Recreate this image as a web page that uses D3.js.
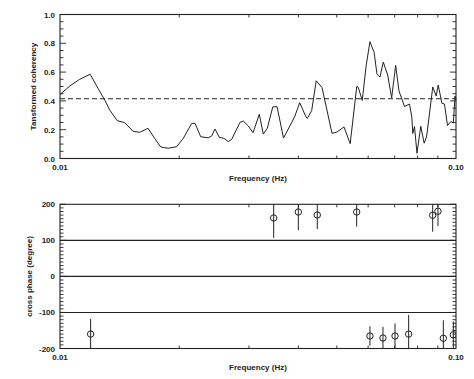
<!DOCTYPE html>
<html><head><meta charset="utf-8">
<script src="https://cdn.jsdelivr.net/npm/d3@7"></script>
<style>
html,body{margin:0;padding:0;background:#fff;}
svg{display:block;}
text{font-family:"Liberation Sans",Arial,sans-serif;font-weight:bold;font-size:8px;fill:#222;}
</style></head>
<body>
<script>
// ---- data ----
const cohFreq = [0.0100,0.01058,0.01121,0.01192,0.01247,0.01297,0.01335,0.01395,0.01457,0.01529,0.0159,0.01668,0.01734,0.01796,0.01874,0.01971,0.02048,0.02151,0.02193,0.02266,0.02369,0.02416,0.02463,0.02525,0.02595,0.02661,0.02714,0.02848,0.02904,0.02989,0.03072,0.03186,0.03261,0.03338,0.03446,0.03532,0.03668,0.03911,0.04031,0.04169,0.04212,0.04321,0.04436,0.04588,0.04863,0.05006,0.05214,0.05405,0.05616,0.05665,0.05798,0.0593,0.06063,0.06213,0.06316,0.06427,0.06551,0.06721,0.06879,0.07041,0.07178,0.07413,0.07631,0.07734,0.07778,0.07856,0.0797,0.08148,0.08311,0.08433,0.08737,0.08913,0.09016,0.09218,0.09354,0.09517,0.09714,0.09845,0.09943,0.1000];
const cohValue = [0.444,0.503,0.55,0.585,0.4875,0.406,0.337,0.2625,0.249,0.189,0.182,0.21,0.14,0.08,0.071,0.082,0.14,0.244,0.244,0.151,0.144,0.156,0.205,0.147,0.14,0.117,0.133,0.251,0.26,0.226,0.179,0.307,0.17,0.21,0.358,0.36,0.142,0.288,0.3875,0.295,0.278,0.333,0.54,0.493,0.175,0.184,0.219,0.103,0.501,0.494,0.403,0.644,0.811,0.736,0.585,0.566,0.67,0.58,0.4215,0.647,0.469,0.361,0.378,0.288,0.174,0.222,0.036,0.224,0.106,0.156,0.497,0.434,0.51,0.383,0.378,0.229,0.257,0.2465,0.434,0.406];
const cohThreshold = 0.415;

const phaseFreq  = [0.01195,0.03464,0.03998,0.04464,0.05613,0.06063,0.0654,0.07015,0.07594,0.08731,0.09005,0.0929,0.09845];
const phaseValue = [-160,162,178.6,170.3,178.6,-165.3,-170.9,-165.3,-160,169.5,180.6,-171.7,-162];
const phaseErr   = [42,55,50,39,40.6,27,31,35,53,45.5,41,50,37];

const cohTicks = [0,0.2,0.4,0.6,0.8,1.0];
const cohTickLabels = ["0.0","0.2","0.4","0.6","0.8","1.0"];
const phaseTicks = [-200,-100,0,100,200];
const phaseTickLabels = ["-200","-100","0","100","200"];
const freqTicks = [0.01,0.1];
const freqTickLabels = ["0.01","0.10"];
const freqMinor = [0.02,0.03,0.04,0.05,0.06,0.07,0.08,0.09];
const phaseRefLines = [100,0,-100];

// ---- drawing ----
const W = 474, H = 379;
const svg = d3.select("body").append("svg").attr("width", W).attr("height", H);
const ink = "#222";

const x = d3.scaleLog().domain([0.01, 0.1]).range([60, 456]);
const yTop = d3.scaleLinear().domain([0, 1]).range([158.5, 14.5]);
const yBot = d3.scaleLinear().domain([-200, 200]).range([348.5, 204.3]);

function frame(y, majors, labels, minorStep, majLen, minLen, xLabelY, xTitleY, yTitle, yTitleX) {
  const [y0, y1] = y.range();
  const g = svg.append("g");
  g.append("rect").attr("x", x.range()[0]).attr("y", y1)
    .attr("width", x.range()[1] - x.range()[0]).attr("height", y0 - y1)
    .attr("fill", "none").attr("stroke", ink).attr("stroke-width", 1.1);
  // y minor ticks
  const [d0, d1] = y.domain();
  const minors = d3.range(d0, d1 + minorStep / 2, minorStep);
  minors.forEach(v => {
    const isMajor = majors.some(m => Math.abs(m - v) < 1e-9);
    const len = isMajor ? majLen : minLen;
    g.append("line").attr("x1", x.range()[0]).attr("x2", x.range()[0] + len)
      .attr("y1", y(v)).attr("y2", y(v)).attr("stroke", ink).attr("stroke-width", 0.9);
    g.append("line").attr("x1", x.range()[1]).attr("x2", x.range()[1] - len)
      .attr("y1", y(v)).attr("y2", y(v)).attr("stroke", ink).attr("stroke-width", 0.9);
  });
  // x minor ticks
  freqMinor.forEach(f => {
    g.append("line").attr("x1", x(f)).attr("x2", x(f)).attr("y1", y0).attr("y2", y0 - 3)
      .attr("stroke", ink).attr("stroke-width", 0.9);
    g.append("line").attr("x1", x(f)).attr("x2", x(f)).attr("y1", y1).attr("y2", y1 + 3)
      .attr("stroke", ink).attr("stroke-width", 0.9);
  });
  // y labels
  majors.forEach((v, i) => {
    g.append("text").attr("x", 55).attr("y", y(v) + 3).attr("text-anchor", "end").text(labels[i]);
  });
  // x labels
  freqTicks.forEach((f, i) => {
    g.append("text").attr("x", x(f)).attr("y", xLabelY).attr("text-anchor", "middle").text(freqTickLabels[i]);
  });
  g.append("text").attr("x", 258).attr("y", xTitleY).attr("text-anchor", "middle").text("Frequency (Hz)");
  const cy = (y0 + y1) / 2;
  g.append("text").attr("transform", `translate(${yTitleX},${cy}) rotate(-90)`)
    .attr("text-anchor", "middle").text(yTitle);
  return g;
}

frame(yTop, cohTicks, cohTickLabels, 0.05, 6, 3.5, 170, 181, "Tansformed coherency", 36);
frame(yBot, phaseTicks, phaseTickLabels, 10, 6, 3.5, 360, 370, "cross phase (degree)", 32);

// top: threshold and curve
svg.append("line").attr("x1", x(0.01)).attr("x2", x(0.1))
  .attr("y1", yTop(cohThreshold)).attr("y2", yTop(cohThreshold))
  .attr("stroke", ink).attr("stroke-width", 1).attr("stroke-dasharray", "5,3");
const cohData = cohFreq.map((f, i) => [f, cohValue[i]]);
svg.append("path").datum(cohData)
  .attr("d", d3.line().x(d => x(d[0])).y(d => yTop(d[1])))
  .attr("fill", "none").attr("stroke", ink).attr("stroke-width", 1);

// bottom: reference lines
phaseRefLines.forEach(v => {
  svg.append("line").attr("x1", x(0.01)).attr("x2", x(0.1))
    .attr("y1", yBot(v)).attr("y2", yBot(v)).attr("stroke", ink).attr("stroke-width", 1.1);
});
// clip for error bars
svg.append("clipPath").attr("id", "clipBot").append("rect")
  .attr("x", x(0.01)).attr("y", yBot(200)).attr("width", x(0.1) - x(0.01)).attr("height", yBot(-200) - yBot(200));
const pts = svg.append("g").attr("clip-path", "url(#clipBot)");
phaseFreq.forEach((f, i) => {
  pts.append("line").attr("x1", x(f)).attr("x2", x(f))
    .attr("y1", yBot(phaseValue[i] - phaseErr[i])).attr("y2", yBot(phaseValue[i] + phaseErr[i]))
    .attr("stroke", ink).attr("stroke-width", 1);
  pts.append("circle").attr("cx", x(f)).attr("cy", yBot(phaseValue[i])).attr("r", 3.2)
    .attr("fill", "none").attr("stroke", ink).attr("stroke-width", 1);
});
</script>
</body></html>
